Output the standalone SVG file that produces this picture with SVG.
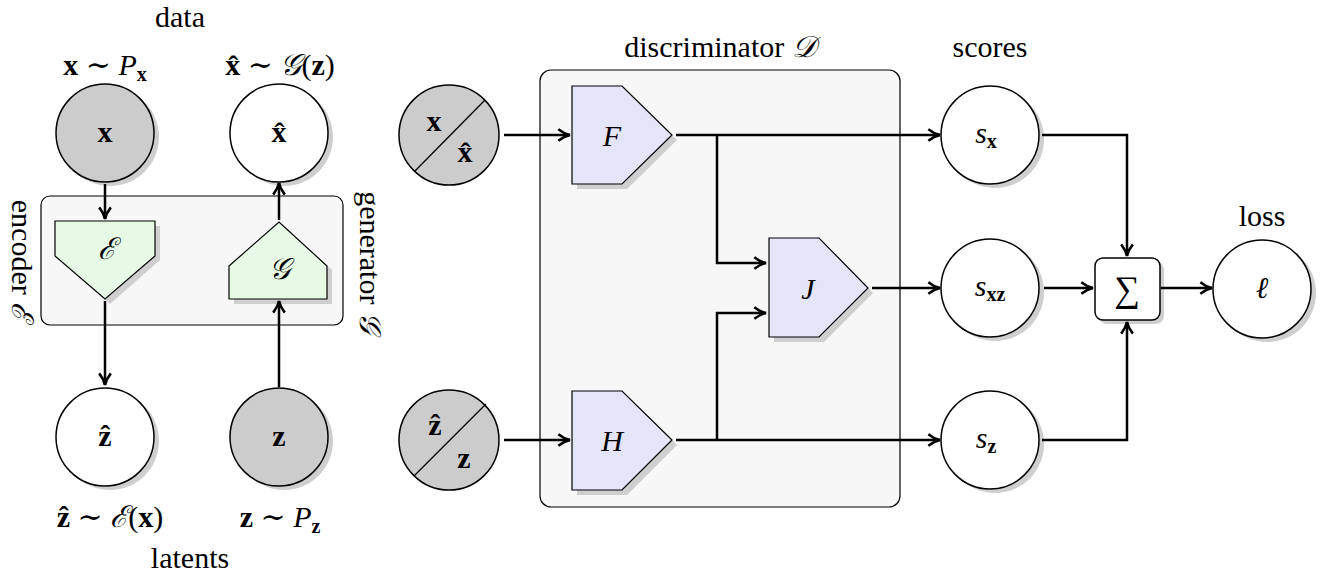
<svg xmlns="http://www.w3.org/2000/svg" width="1322" height="577" viewBox="0 0 1322 577">
<defs>
<marker id="a" viewBox="0 0 12 12" refX="11" refY="6" markerWidth="14" markerHeight="14" orient="auto" markerUnits="userSpaceOnUse">
<path d="M1,1 Q6,5 11,6 Q6,7 1,11" fill="none" stroke="#000" stroke-width="2.2"/>
</marker>
</defs>
<style>
text{font-family:"Liberation Serif","DejaVu Serif",serif;fill:#000}
.t{font-size:30px;text-anchor:middle}
.b{font-weight:bold}
.i{font-style:italic}
.sh{fill:#cfcfcf}
.cg{fill:#cccccc;stroke:#000;stroke-width:1.5}
.cw{fill:#fff;stroke:#000;stroke-width:1.5}
.gr{fill:#e6fae6;stroke:#000;stroke-width:1.2}
.bl{fill:#e5e5fa;stroke:#000;stroke-width:1.2}
.box{fill:#f7f7f7;stroke:#000;stroke-width:1.2}
.c{fill:none;stroke:#000;stroke-width:2.5}
.sub{font-size:20px;font-weight:bold;font-style:normal}
</style>
<rect class="box" x="41" y="196" width="302" height="129" rx="9"/>
<rect class="box" x="540" y="70" width="360" height="437" rx="11"/>
<g id="n-x"><circle class="sh" cx="110" cy="137" r="49"/><circle class="cg" cx="105" cy="133" r="49"/><text class="t b" x="105" y="142">x</text></g>
<g id="n-xhat"><circle class="sh" cx="284" cy="137" r="49"/><circle class="cw" cx="279" cy="133" r="49"/><text class="t b" x="279" y="142">x̂</text></g>
<g id="n-zhat"><circle class="sh" cx="110" cy="441" r="49"/><circle class="cw" cx="105" cy="437" r="49"/><text class="t b" x="105" y="446">ẑ</text></g>
<g id="n-z"><circle class="sh" cx="284" cy="441" r="49"/><circle class="cg" cx="279" cy="437" r="49"/><text class="t b" x="279" y="446">z</text></g>
<g id="n-enc"><path class="sh" d="M60,226 H160 V260 L110,304 L60,260 Z"/><path class="gr" d="M55,221 H155 V256 L105,299 L55,256 Z"/><text class="t i" x="107" y="259" style="font-size:30px">ℰ</text></g>
<g id="n-gen"><path class="sh" d="M234,270 L284,226 L332,270 V304 H234 Z"/><path class="gr" d="M229,266 L279,222 L327,266 V299 H229 Z"/><text class="t i" x="279" y="279" style="font-size:30px">𝒢</text></g>
<g id="n-xx"><circle class="cg" cx="449" cy="135" r="50"/><line x1="415" y1="171" x2="485" y2="100" stroke="#000" stroke-width="1.3"/><text class="t b" x="434" y="131">x</text><text class="t b" x="465" y="162">x̂</text></g>
<g id="n-zz"><circle class="cg" cx="449" cy="440" r="50"/><line x1="414" y1="476" x2="486" y2="404" stroke="#000" stroke-width="1.3"/><text class="t b" x="435" y="435">ẑ</text><text class="t b" x="464" y="468">z</text></g>
<g id="n-F"><path class="sh" d="M577,91 H627 L677,140 L627,189 H577 Z"/><path class="bl" d="M572,86 H622 L672,135 L622,184 H572 Z"/><text class="t i" x="612" y="146">F</text></g>
<g id="n-H"><path class="sh" d="M577,396 H627 L677,445 L627,495 H577 Z"/><path class="bl" d="M572,391 H622 L672,440 L622,490 H572 Z"/><text class="t i" x="612" y="451">H</text></g>
<g id="n-J"><path class="sh" d="M774,243 H824 L873,293 L824,342 H774 Z"/><path class="bl" d="M769,238 H819 L868,288 L819,337 H769 Z"/><text class="t i" x="808" y="299">J</text></g>
<g id="n-sx"><circle class="sh" cx="995" cy="139" r="49"/><circle class="cw" cx="990" cy="135" r="49"/><text class="t i" x="986" y="143">s<tspan class="sub" dy="5">x</tspan></text></g>
<g id="n-sxz"><circle class="sh" cx="995" cy="292" r="49"/><circle class="cw" cx="990" cy="288" r="49"/><text class="t i" x="990" y="296">s<tspan class="sub" dy="5">xz</tspan></text></g>
<g id="n-sz"><circle class="sh" cx="995" cy="444" r="49"/><circle class="cw" cx="990" cy="440" r="49"/><text class="t i" x="986" y="448">s<tspan class="sub" dy="5">z</tspan></text></g>
<g id="n-sum"><rect class="sh" x="1099" y="262" width="65" height="62" rx="8"/><rect class="cw" x="1095" y="258" width="65" height="62" rx="8"/><text class="t" x="1127" y="301" style="font-size:36px">∑</text></g>
<g id="n-loss"><circle class="sh" cx="1267" cy="293" r="49"/><circle class="cw" cx="1262" cy="289" r="49"/><text class="t i" x="1262" y="298">ℓ</text></g>
<g id="connectors">
<path class="c" d="M105,184 V219" marker-end="url(#a)"/>
<path class="c" d="M105,301 V385" marker-end="url(#a)"/>
<path class="c" d="M279,387 V301" marker-end="url(#a)"/>
<path class="c" d="M279,220 V183" marker-end="url(#a)"/>
<path class="c" d="M504,135 H570" marker-end="url(#a)"/>
<path class="c" d="M504,440 H570" marker-end="url(#a)"/>
<path class="c" d="M676,135 H940" marker-end="url(#a)"/>
<path class="c" d="M676,440 H940" marker-end="url(#a)"/>
<path class="c" d="M717,135 V263 H766" marker-end="url(#a)"/>
<path class="c" d="M717,440 V313 H766" marker-end="url(#a)"/>
<path class="c" d="M872,288 H940" marker-end="url(#a)"/>
<path class="c" d="M1042,135 H1127 V256" marker-end="url(#a)"/>
<path class="c" d="M1042,440 H1127 V322" marker-end="url(#a)"/>
<path class="c" d="M1044,288 H1093" marker-end="url(#a)"/>
<path class="c" d="M1161,288 H1212" marker-end="url(#a)"/>
</g>
<text class="t" x="180" y="27">data</text>
<text class="t" x="105" y="75"><tspan class="b">x</tspan> ∼ <tspan class="i">P</tspan><tspan class="sub" dy="6">x</tspan></text>
<text class="t" x="280" y="75"><tspan class="b">x̂</tspan> ∼ <tspan class="i">𝒢</tspan>(<tspan class="b">z</tspan>)</text>
<text class="t" x="110" y="527"><tspan class="b">ẑ</tspan> ∼ <tspan class="i">ℰ</tspan>(<tspan class="b">x</tspan>)</text>
<text class="t" x="280" y="527"><tspan class="b">z</tspan> ∼ <tspan class="i">P</tspan><tspan class="sub" dy="6">z</tspan></text>
<text class="t" x="190" y="568">latents</text>
<text class="t" transform="translate(12,260) rotate(90)">encoder <tspan class="i">ℰ</tspan></text>
<text class="t" transform="translate(360,262) rotate(90)">generator <tspan class="i">𝒢</tspan></text>
<text class="t" x="720" y="57">discriminator <tspan class="i">𝒟</tspan></text>
<text class="t" x="990" y="57">scores</text>
<text class="t" x="1262" y="226">loss</text>
</svg>
